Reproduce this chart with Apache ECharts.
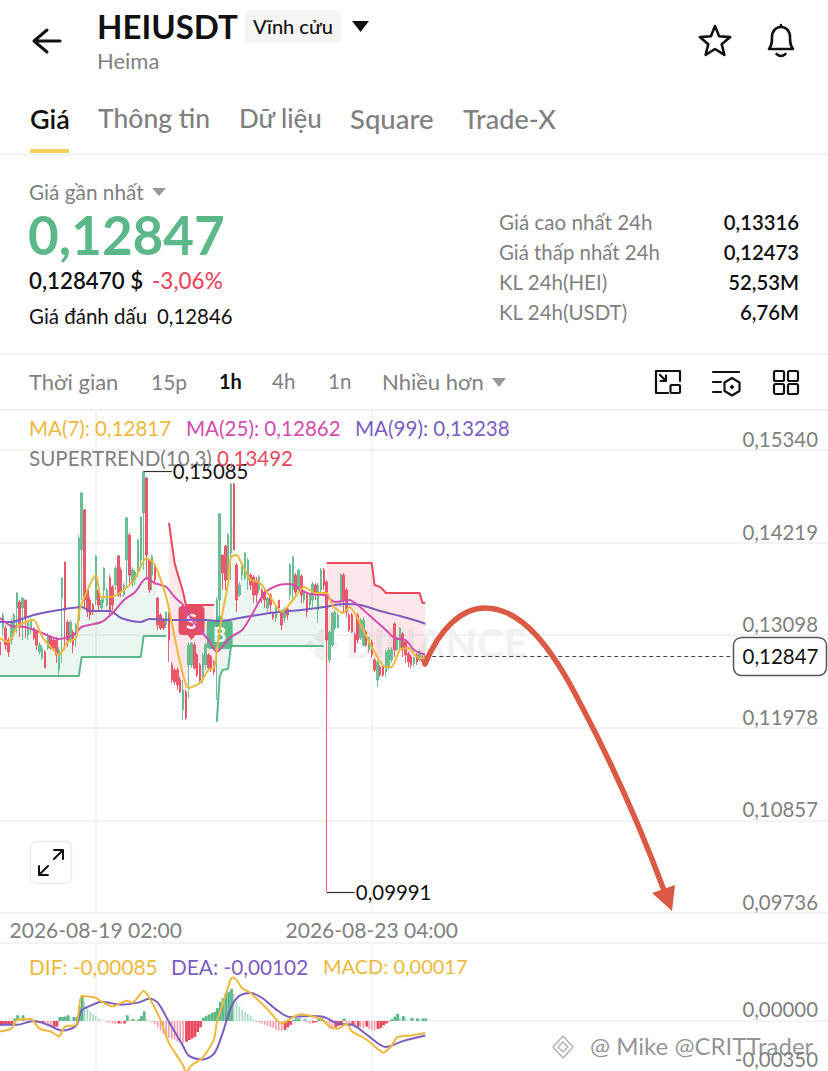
<!DOCTYPE html>
<html lang="vi"><head><meta charset="utf-8">
<style>html,body{margin:0;padding:0;background:#fff}#c{width:828px;height:1071px}</style>
<script src="https://cdn.jsdelivr.net/npm/echarts@6/dist/echarts.min.js"></script>
</head><body><div id="c"></div>
<script>
// All prices below are stored in units of 0.00001 USDT.
const UNIT = 1e-5;
// Each row: high, top of body, bottom of body, low, 1 = rising / 0 = falling
const candleRows = [
[13041,13017,12859,12799,0],[13380,13343,13186,13101,1],[13222,13186,12980,12920,0],[13077,13041,12896,12835,0],
[13307,13259,13041,12980,1],[13368,13343,13162,13077,1],[13622,13610,13428,13126,1],[13525,13501,13222,13077,0],
[13561,13549,13428,13041,1],[13525,13525,13307,13065,0],[13283,13259,13101,13041,1],[13307,13283,13162,13114,1],
[13186,13186,13065,13041,0],[13162,13138,12980,12920,0],[13017,12980,12896,12859,1],[12980,12944,12823,12799,1],
[12920,12896,12702,12702,0],[13126,13089,12944,12920,1],[13101,13077,12944,12920,0],[13065,13041,12944,12920,0],
[13077,13041,12859,12763,0],[12956,12920,12678,12617,1],[13803,13791,13549,12763,1],[13986,13986,13404,12920,0],
[13283,13259,13041,12956,0],[13283,13259,13041,13005,1],[13162,13138,12980,12884,0],[13247,13222,13065,12956,1],
[14312,14276,13283,13259,1],[14833,14821,14131,13525,1],[14627,14615,13525,13440,0],[13646,13646,13380,13319,0],
[13561,13525,13343,13283,0],[13489,13464,13380,13343,0],[14070,14058,13525,13464,1],[13683,13646,13464,13404,0],
[13561,13525,13428,13380,1],[13924,13912,13646,13489,1],[13670,13646,13464,13440,1],[13827,13791,13404,13343,0],
[13706,13683,13464,13404,0],[13936,13912,13706,13646,1],[14070,14058,13585,13561,0],[13924,13888,13646,13561,0],
[13730,13706,13585,13561,1],[14530,14518,14010,13683,1],[14337,14312,13827,13730,0],[13924,13888,13743,13683,1],
[13888,13864,13767,13706,1],[14264,14252,13888,13803,1],[14542,14530,14010,13888,1],[15085,15075,14579,13888,1],
[15014,15002,14070,13767,0],[14010,14010,13646,13610,0],[14070,14058,13827,13646,1],[13974,13949,13767,13706,0],
[13561,13549,13222,13162,0],[13368,13343,13186,13162,0],[13307,13283,13186,13162,0],[13380,13380,13222,13186,1],
[13380,13343,13041,12775,0],[12775,12739,12557,12521,0],[12702,12678,12533,12497,0],[12714,12678,12497,12436,0],
[12593,12557,12412,12400,0],[12557,12436,12194,12073,1],[12436,12412,12097,12073,0],[13017,12980,12739,12339,1],
[13017,13005,12739,12702,1],[13017,12980,12702,12678,0],[12884,12859,12617,12593,0],[12763,12739,12557,12521,0],
[12884,12859,12557,12521,1],[13005,12980,12739,12678,1],[12884,12859,12702,12678,0],[12859,12835,12702,12654,0],
[12799,12775,12654,12617,0],[13561,13525,12920,12315,1],[14579,14567,13525,13283,1],[14070,14070,13852,13646,0],
[14191,14179,13767,13646,0],[14337,14312,13888,13767,1],[14942,14930,14094,13767,1],[14942,14930,14131,14131,0],
[13974,13949,13525,13380,0],[13743,13706,13585,13561,1],[13974,13949,13827,13767,1],[14106,14094,13791,13767,1],
[14034,14010,13767,13646,1],[13852,13827,13706,13646,0],[13827,13803,13585,13489,0],[13803,13767,13585,13489,0],
[13827,13803,13646,13610,1],[13670,13646,13549,13489,0],[13646,13622,13525,13428,0],[13561,13549,13428,13380,1],
[13610,13585,13464,13368,0],[13380,13380,13307,13283,0],[13464,13440,13307,13259,1],[13525,13525,13428,13380,0],
[13404,13380,13222,13162,0],[13440,13416,13307,13247,1],[13440,13416,13343,13283,0],[13974,13949,13585,13525,1],
[14058,14046,13646,13525,1],[13852,13827,13622,13561,0],[13900,13888,13646,13610,1],[13840,13815,13585,13489,0],
[13646,13622,13525,13489,1],[13610,13585,13380,13319,0],[13610,13585,13464,13404,1],[13743,13719,13525,13440,1],
[13730,13706,13585,13525,0],[13730,13706,13404,13247,1],[13912,13888,13646,13610,1],[13912,13888,13706,13646,0],
[13767,13743,13041,9991,0],[13162,13138,12799,12763,1],[13380,13368,12980,12956,1],[13404,13380,13186,13162,1],
[13368,13343,13186,13186,1],[13852,13827,13525,13440,1],[13852,13827,13525,13368,0],[13670,13646,13380,13319,0],
[13368,13343,13162,13138,0],[13368,13343,13138,13126,0],[13126,13101,12896,12884,0],[13368,13343,13041,13005,0],
[13307,13283,13065,13041,1],[13319,13283,12980,12956,1],[13162,13138,12980,12956,0],[13077,13065,12920,12884,1],
[13041,13017,12859,12823,0],[12823,12799,12678,12654,0],[12799,12775,12557,12473,1],[12739,12714,12617,12593,0],
[12739,12714,12617,12593,0],[12920,12896,12654,12593,1],[12956,12920,12702,12678,1],[12956,12920,12799,12763,1],
[13259,13235,12920,12835,0],[13077,13065,12920,12908,1],[13198,13186,12944,12920,1],[13138,13114,12920,12835,0],
[13041,13017,12859,12763,0],[12896,12872,12775,12714,0],[12859,12835,12739,12702,0],[12835,12823,12751,12714,1],
[12884,12859,12775,12739,0],[12920,12896,12799,12775,1],[12859,12835,12775,12751,0],[12847,12847,12799,12775,1]
];
// Moving averages, read at these candle positions: [candle index, value]
const ma7 = [[0,13065],[3,13017],[6,13198],[9,13259],[12,13283],[15,13077],[18,12956],[21,12859],[24,13017],[27,13065],[28,13368],[30,13561],[34,13827],[36,13561],[39,13561],[44,13646],[48,13791],[52,14034],[55,13949],[59,13561],[61,13247],[64,12763],[67,12460],[71,12521],[74,12678],[76,12702],[77,12920],[79,13368],[81,13730],[82,14046],[84,14070],[86,13949],[89,13767],[92,13743],[96,13561],[100,13380],[104,13525],[108,13683],[112,13610],[116,13610],[118,13464],[122,13368],[124,13440],[129,13162],[132,12956],[137,12714],[139,12714],[142,12920],[145,12944],[148,12835],[151,12817]];
const ma25 = [[0,13307],[4,13210],[9,13198],[14,13138],[21,13053],[26,13101],[29,13198],[36,13259],[40,13368],[44,13525],[48,13622],[52,13791],[55,13730],[59,13683],[62,13561],[65,13464],[69,13247],[74,13041],[77,12896],[80,13005],[82,13077],[86,13162],[89,13319],[94,13610],[99,13706],[103,13719],[107,13646],[110,13597],[115,13585],[119,13501],[124,13525],[127,13464],[131,13343],[137,13162],[140,13065],[144,13041],[147,12920],[151,12862]];
const ma99 = [[0,13259],[4,13259],[12,13343],[21,13404],[29,13440],[32,13392],[39,13392],[43,13307],[50,13259],[53,13295],[62,13283],[73,13283],[78,13271],[85,13307],[96,13368],[107,13404],[115,13440],[122,13477],[128,13464],[135,13392],[142,13331],[147,13283],[151,13238]];
// Supertrend(10,3), one value per candle; _ = not active on that side
const _ = null;
const stBull = [
12605,12605,12605,12605,12605,12605,12605,12605,12605,12605,12605,12605,12605,12605,12605,12605,12605,12605,12605,12605,12605,12605,12605,12605,12605,12605,12605,12605,12605,
12835,12835,12835,12835,12835,12835,12835,12835,12835,12835,12835,12835,12835,12835,12835,12835,12835,12835,12835,12835,12835,12835,
13089,13089,13089,13089,13089,13089,13089,13089,13089,
_,_,_,_,_,_,_,_,_,_,_,_,_,_,_,_,_,
12049,12593,12678,12684,12690,
12968,12968,12968,12968,12968,12968,12968,12968,12968,12968,12968,12968,12968,12968,12968,12968,12968,12968,12968,12968,12968,12968,12968,12968,12968,12968,12968,12968,12968,12968,12968,12968,12968,12968,
_,_,_,_,_,_,_,_,_,_,_,_,_,_,_,_,_,_,_,_,_,_,_,_,_,_,_,_,_,_,_,_,_,_,_,_
];
const stBear = [
_,_,_,_,_,_,_,_,_,_,_,_,_,_,_,_,_,_,_,_,_,_,_,_,_,_,_,_,_,_,_,_,_,_,_,_,_,_,_,_,_,_,_,_,_,_,_,_,_,_,_,_,_,_,_,_,_,_,_,_,
14458,14216,13974,13850,13740,13622,
13464,13464,13464,13464,13464,13464,13464,13464,13464,13464,13464,
_,_,_,_,_,_,_,_,_,_,_,_,_,_,_,_,_,_,_,_,_,_,_,_,_,_,_,_,_,_,_,_,_,_,_,_,_,_,_,
13974,13974,13974,13974,13974,13974,13974,13974,13974,13974,13974,13974,13974,13974,13974,13974,13974,
13706,13695,13683,13650,
13610,13610,13610,13610,13610,13610,13610,13610,13610,13610,13610,13610,13610,
13489,13492
];
// MACD panel
const dif = [[0,-74],[4,-54],[6,7],[11,13],[14,-54],[18,-74],[21,-108],[23,-40],[27,-27],[28,74],[29,175],[34,162],[36,135],[40,101],[45,141],[47,128],[51,209],[53,162],[57,7],[60,-155],[65,-310],[66,-363],[68,-310],[72,-256],[76,-128],[77,-7],[79,114],[82,296],[83,303],[86,229],[89,195],[95,81],[100,-20],[104,27],[107,47],[114,13],[117,-40],[120,-54],[123,-20],[125,-74],[130,-128],[134,-195],[136,-222],[139,-175],[141,-114],[146,-101],[151,-85]];
const dea = [[0,-27],[6,-27],[12,0],[17,-27],[22,-67],[27,-34],[29,74],[33,114],[36,135],[43,114],[49,128],[53,155],[56,128],[60,-7],[65,-175],[67,-242],[72,-269],[76,-229],[79,-87],[82,94],[85,175],[89,195],[93,162],[98,81],[103,27],[110,34],[115,27],[120,-20],[125,-27],[131,-108],[137,-182],[143,-141],[151,-102]];
const macdHist = [-34,-27,-27,-27,-27,18,40,22,40,13,9,-4,-9,-13,-13,-13,-18,-40,-45,-40,-40,27,27,31,40,18,27,27,101,179,134,90,67,49,34,18,11,4,-9,-13,-18,-22,-18,-22,-18,40,9,13,9,11,34,67,18,-4,-9,-22,-45,-67,-90,-112,-118,-125,-130,-146,-152,-157,-146,-134,-123,-112,-78,-45,22,34,45,56,63,90,134,160,190,205,224,190,134,101,78,63,49,34,13,-9,-13,-18,-27,-34,-45,-49,-63,-67,-72,-63,-45,-27,9,18,18,9,11,-13,-18,-13,-9,18,22,18,-22,-54,-58,-45,-34,-18,18,-18,-34,-27,-45,-40,-45,-49,-40,-56,-63,-67,-56,-49,-31,-18,-4,13,31,49,22,34,27,4,22,18,18,13,18,18];
// Axis labels
const priceTicksFrom = 0.09736, priceTickStep = 0.011208;
const macdTickStep = 0.0035;
const labelledCandles = [34, 132];
const lastPrice = 0.12847, lowPrice = 0.09991, highPrice = 0.15085;
const legendMain = ['MA(7): 0,12817','MA(25): 0,12862','MA(99): 0,13238','SUPERTREND(10,3)','0,13492'];
const legendMacd = ['DIF: -0,00085','DEA: -0,00102','MACD: 0,00017'];

const GREEN='#5CB88B', RED='#E8495F', YEL='#EDB83B', MAG='#D24CAE', PUR='#7C5DBE', GRAY='#808080', INK='#111', RULE='#EFEFEF';
const FONT='Lato,"Open Sans","Noto Sans",sans-serif';
const pad = n => String(n).padStart(2,'0');
const timeLabels = [];
for (let i = 0; i < 295; i++) {
  const d = new Date(Date.UTC(2026,7,17,16 + i));
  timeLabels.push(`${d.getUTCFullYear()}-${pad(d.getUTCMonth()+1)}-${pad(d.getUTCDate())} ${pad(d.getUTCHours())}:00`);
}
const price = v => v == null ? null : +(v*UNIT).toFixed(5);
const candleData = candleRows.map(([h,t,b,l,up]) => up ? [price(b),price(t),price(l),price(h)] : [price(t),price(b),price(l),price(h)]);
const scaled = arr => arr.map(([i,v]) => [i, price(v)]);
const fmt = v => v.toFixed(5).replace('.',',');
// fill between the supertrend line and the candle midpoint
const midPoint = candleRows.map(r => (r[0]+r[3])/2);
function bandPairs(st){
  const out=[];
  for(let i=0;i<st.length-1;i++) if(st[i]!=null&&st[i+1]!=null)
    out.push([i,price(st[i]),price(midPoint[i]),i+1,price(st[i+1]),price(midPoint[i+1])]);
  return out;
}
function band(data,color){
  return {type:'custom',xAxisIndex:0,yAxisIndex:0,z:1,silent:true,data,clip:true,
    encode:{x:[0,3],y:[1,2,4,5]},
    renderItem(p,api){
      const a=api.coord([api.value(0),api.value(1)]),b=api.coord([api.value(3),api.value(4)]),
            c=api.coord([api.value(3),api.value(5)]),d=api.coord([api.value(0),api.value(2)]);
      return {type:'polygon',shape:{points:[a,b,c,d]},style:{fill:color,stroke:null}};
    }};
}
const maLine=(name,data,color,w)=>({type:'line',name,data:scaled(data),xAxisIndex:0,yAxisIndex:0,z:10,showSymbol:false,smooth:0.25,
  lineStyle:{color,width:w||2},silent:true});
const stLine=(arr,color)=>({type:'line',data:arr.map(price),xAxisIndex:0,yAxisIndex:0,z:4,showSymbol:false,connectNulls:false,
  lineStyle:{color,width:2},silent:true});

function T(x,y,text,size,fill,weight,align){
  return {type:'text',z:30,silent:true,style:{x,y:y-1,text,fill,font:`${weight||400} ${size}px ${FONT}`,textAlign:align||'left',textVerticalAlign:'middle'}};
}
function P(d,stroke,w,fill){
  return {type:'path',shape:{pathData:d},style:{stroke:stroke||'none',lineWidth:w||0,fill:fill||'none',lineJoin:'round',lineCap:'round'}};
}
function R(x,y,w,h,r,fill,stroke,lw){
  return {type:'rect',z:30,silent:true,shape:{x,y,width:w,height:h,r},style:{fill,stroke:stroke||null,lineWidth:lw||0}};
}
function H(y){return {type:'line',z:0,silent:true,shape:{x1:0,y1:y,x2:828,y2:y},style:{stroke:RULE,lineWidth:1.5}};}

const chrome=[
 R(245,10,96,33,4,'#F5F5F5'),
 T(97,27,'HEIUSDT',33,INK,700),
 T(293,27,'Vĩnh cửu',20,INK,500,'center'),
 T(97,61,'Heima',22,GRAY,400),
 T(30,119,'Giá',27,INK,600),T(98,119,'Thông tin',26.5,GRAY,500),T(239,119,'Dữ liệu',26,GRAY,500),T(350,119,'Square',27.5,GRAY,500),T(463,119,'Trade-X',27,GRAY,500),
 R(30,149,39,4,0,'#F6CE58'),H(154.5),
 T(29,192,'Giá gần nhất',20.8,GRAY,400),
 T(28,235,'0,12847',53,GREEN,700),
 T(29,281,'0,128470 $',22.3,INK,600),T(152,281,'-3,06%',22.5,RED,500),
 T(29,317,'Giá đánh dấu',20.5,INK,400),T(157,317,'0,12846',20.4,INK,400),
 T(499,223,'Giá cao nhất 24h',20.6,GRAY,400),T(499,253,'Giá thấp nhất 24h',20.4,GRAY,400),T(499,283,'KL 24h(HEI)',20.5,GRAY,400),T(499,313,'KL 24h(USDT)',20.5,GRAY,400),
 T(799,223,'0,13316',20.3,INK,600,'right'),T(799,253,'0,12473',20.3,INK,600,'right'),T(799,283,'52,53M',20.3,INK,600,'right'),T(799,313,'6,76M',20.3,INK,600,'right'),
 H(354),
 T(29,382,'Thời gian',22,GRAY,400),T(151,382,'15p',21,GRAY,400),T(219,382,'1h',20,INK,700),T(272,382,'4h',20.5,GRAY,400),T(328,382,'1n',20.5,GRAY,400),T(382,382,'Nhiều hơn',22,GRAY,400),
 R(670.5,385,9.5,8,1,'none','#111',2.2),
 R(774,371,10,10,1.5,'none','#111',2.2),R(788,371,10,10,1.5,'none','#111',2.2),R(774,384,10,10,1.5,'none','#111',2.2),R(788,384,10,10,1.5,'none','#111',2.2),
 H(409.5),
 T(29,429,legendMain[0],20.5,YEL),T(186,429,legendMain[1],20.6,MAG),T(355,429,legendMain[2],20.6,PUR),
 T(29,459,legendMain[3],20.6,GRAY),T(217,459,legendMain[4],20.5,RED),
 T(29,967,legendMacd[0],20.8,YEL),T(171,967,legendMacd[1],20.8,PUR),T(323,967,legendMacd[2],20,YEL),
 H(943),
 {type:'text',z:0,silent:true,style:{x:346,y:642,text:'BINANCE',fill:'#F1F1F1',font:`700 41px ${FONT}`,textVerticalAlign:'middle'}},
 R(30.5,841.5,41,42,6,'#fff','#EAEAEA',1.5),
 R(733.5,637.5,93,38,8,'#fff','#555',1.5),
 T(780.5,656.5,'0,12847',20.5,INK,400,'center'),
 {type:'text',z:40,silent:true,style:{x:590,y:1045,text:'@ Mike @CRITTrader',fill:'rgba(120,120,120,.8)',font:`400 24px ${FONT}`,textVerticalAlign:'middle'}}
];
// icons and the hand-drawn forecast arrow (decoration, not data)
const iconPaths=[
 P('M60 41H35M47 30L34 41L47 52','#111',3),
 P('M352 21H369L360.5 32Z',null,0,'#111'),
 P('M715 26L719.1 36.3L730.2 37.1L721.7 44.2L724.4 54.9L715 49L705.6 54.9L708.3 44.2L699.8 37.1L710.9 36.3Z','#111',2.6),
 P('M769 49C772 45 772 42 772 37C772 31 776 27 781 27C786 27 790 31 790 37C790 42 790 45 793 49ZM776.5 54Q781 58 785.5 54M781 27V25','#111',2.6),
 P('M152 188H166L159 196Z',null,0,'#999'),
 P('M492 378H506L499 387Z',null,0,'#999'),
 P('M668 393H656V371H680V381M660 375L666 381M666 375.5V381H660.5','#111',2.2),
 P('M713 372H739M713 382H721M713 392H721M732 378L739.5 382.5V391L732 395.5L724.5 391V382.5Z','#111',2.2),
 P('M732 384.5L734.5 387L732 389.5L729.5 387Z',null,0,'#111'),
 P('M39 875L48 866M39 866V875H48M54 859L63 850M54 850H63V859','#111',2),
 P('M425 664C440 628 462 608 485 608C522 608 552 648 580 703C606 752 636 815 665 893','#DB5A45',5.5),
 P('M652 893L675 885L672 911Z',null,0,'#DB5A45'),
 P('M563 1036L573 1047L563 1058L553 1047ZM563 1042L568 1047L563 1052L558 1047Z','#AAA',1.2)
];
const logoPaths=[P('M322 628L331 637L322 646L313 637ZM310 640L315 645L310 650L305 645ZM334 640L339 645L334 650L329 645ZM322 644L331 653L322 662L313 653Z',null,0,'#F1F1F1')];
const decoration=(children,z)=>({type:'custom',coordinateSystem:'none',z,silent:true,data:[0],renderItem:()=>({type:'group',children})});

const PIN_DOWN='path://M4 0H22A4 4 0 0 1 26 4V25A4 4 0 0 1 22 29H17L13 34L9 29H4A4 4 0 0 1 0 25V4A4 4 0 0 1 4 0Z';
const PIN_UP='path://M13 0L17 5H22A4 4 0 0 1 26 9V30A4 4 0 0 1 22 34H4A4 4 0 0 1 0 30V9A4 4 0 0 1 4 5H9Z';
const axisText={color:GRAY,fontSize:20.4,fontFamily:FONT};
// Histogram: bars that rise against the previous bar are solid and full width, the others pale and thin
const isRising = macdHist.map((h,i) => h >= (macdHist[i-1] ?? h));
const solidBars = macdHist.map((h,i) => isRising[i] ? {value:price(h),itemStyle:{color:h>=0?GREEN:RED}} : null);
const paleBars = macdHist.map((h,i) => isRising[i] ? null : {value:price(h),itemStyle:{color:h>=0?'#A9DAC3':'#F09DAA'}});

const chart=echarts.init(document.getElementById('c'),null,{renderer:'svg',width:828,height:1071});
chart.setOption({
 animation:false,backgroundColor:'#fff',textStyle:{fontFamily:FONT},
 grid:[{left:0,width:828,top:410,height:503},{left:0,width:828,top:943,height:133}],
 xAxis:[
  {type:'category',gridIndex:0,data:timeLabels,boundaryGap:false,axisLine:{show:false},axisTick:{show:false},
   axisLabel:{...axisText,fontSize:21,margin:6,hideOverlap:false,interval:i=>labelledCandles.includes(i)},
   splitLine:{show:true,interval:i=>labelledCandles.includes(i),lineStyle:{color:RULE,width:1.5}}},
  {type:'category',gridIndex:1,data:timeLabels,boundaryGap:false,axisLine:{show:false},axisTick:{show:false},axisLabel:{show:false},
   splitLine:{show:true,interval:i=>labelledCandles.includes(i),lineStyle:{color:RULE,width:1.5}}}
 ],
 yAxis:[
  {type:'value',gridIndex:0,position:'right',scale:true,min:priceTicksFrom,max:0.15825,interval:priceTickStep,
   axisLine:{show:false},axisTick:{show:false},
   axisLabel:{...axisText,inside:true,margin:10,verticalAlign:'bottom',lineHeight:22,showMaxLabel:false,formatter:fmt},
   splitLine:{show:true,lineStyle:{color:RULE,width:1.5}}},
  {type:'value',gridIndex:1,position:'right',scale:true,min:-macdTickStep,max:0.00545,interval:macdTickStep,
   axisLine:{show:false},axisTick:{show:false},
   axisLabel:{...axisText,inside:true,margin:10,verticalAlign:'bottom',lineHeight:24,showMaxLabel:false,
     formatter:v=>v>0.001?'':fmt(v)},
   splitLine:{show:false}}
 ],
 series:[
  decoration(logoPaths,0),
  band(bandPairs(stBull),'rgba(92,184,139,.12)'),
  band(bandPairs(stBear),'rgba(232,73,95,.13)'),
  {type:'candlestick',xAxisIndex:0,yAxisIndex:0,z:3,data:candleData,barWidth:2,clip:true,silent:true,
   itemStyle:{color:GREEN,color0:RED,borderColor:GREEN,borderColor0:RED,borderWidth:1,opacity:.88},
   markLine:{silent:true,symbol:'none',z:5,animation:false,
    data:[
     [{coord:[151,lastPrice],lineStyle:{color:'#444',type:[4,3],width:1},label:{show:false}},{coord:[260,lastPrice]}],
     [{coord:[51,highPrice],lineStyle:{color:'#333',type:'solid',width:1.2},
       label:{show:true,position:'end',formatter:fmt(highPrice),color:INK,fontSize:20.4,fontFamily:FONT,distance:1}},{coord:[61,highPrice]}],
     [{coord:[116,lowPrice],lineStyle:{color:'#333',type:'solid',width:1.2},
       label:{show:true,position:'end',formatter:fmt(lowPrice),color:INK,fontSize:20.4,fontFamily:FONT,distance:1}},{coord:[126,lowPrice]}]
    ]},
   markPoint:{silent:true,z:6,animation:false,
    data:[
     {coord:[68,0.13247],symbol:PIN_DOWN,symbolSize:[26,34],itemStyle:{color:'rgba(226,65,87,.92)'},
      label:{show:true,formatter:'S',color:'#fff',fontSize:20,fontWeight:700,fontFamily:FONT,position:'inside',offset:[0,-2]}},
     {coord:[78,0.13138],symbol:PIN_UP,symbolSize:[26,34],itemStyle:{color:'rgba(80,180,130,.92)'},
      label:{show:true,formatter:'B',color:'#fff',fontSize:20,fontWeight:700,fontFamily:FONT,position:'inside',offset:[0,2]}}
    ]}},
  stLine(stBull,GREEN),
  stLine(stBear,RED),
  maLine('MA99',ma99,PUR),
  maLine('MA25',ma25,MAG),
  maLine('MA7',ma7,YEL),
  {type:'bar',xAxisIndex:1,yAxisIndex:1,z:2,barWidth:2.8,barGap:'-100%',silent:true,clip:true,data:solidBars,
   markLine:{silent:true,symbol:'none',label:{show:false},lineStyle:{color:RULE,width:1.5,type:'solid'},z:0,animation:false,data:[{yAxis:0}]}},
  {type:'bar',xAxisIndex:1,yAxisIndex:1,z:2,barWidth:1.6,barGap:'-100%',silent:true,clip:true,data:paleBars},
  {type:'line',data:scaled(dea),xAxisIndex:1,yAxisIndex:1,z:6,showSymbol:false,smooth:0.3,lineStyle:{color:PUR,width:2},silent:true},
  {type:'line',data:scaled(dif),xAxisIndex:1,yAxisIndex:1,z:7,showSymbol:false,smooth:0.2,lineStyle:{color:YEL,width:2},silent:true},
  decoration(iconPaths,40)
 ],
 graphic:{elements:chrome}
});
</script></body></html>
